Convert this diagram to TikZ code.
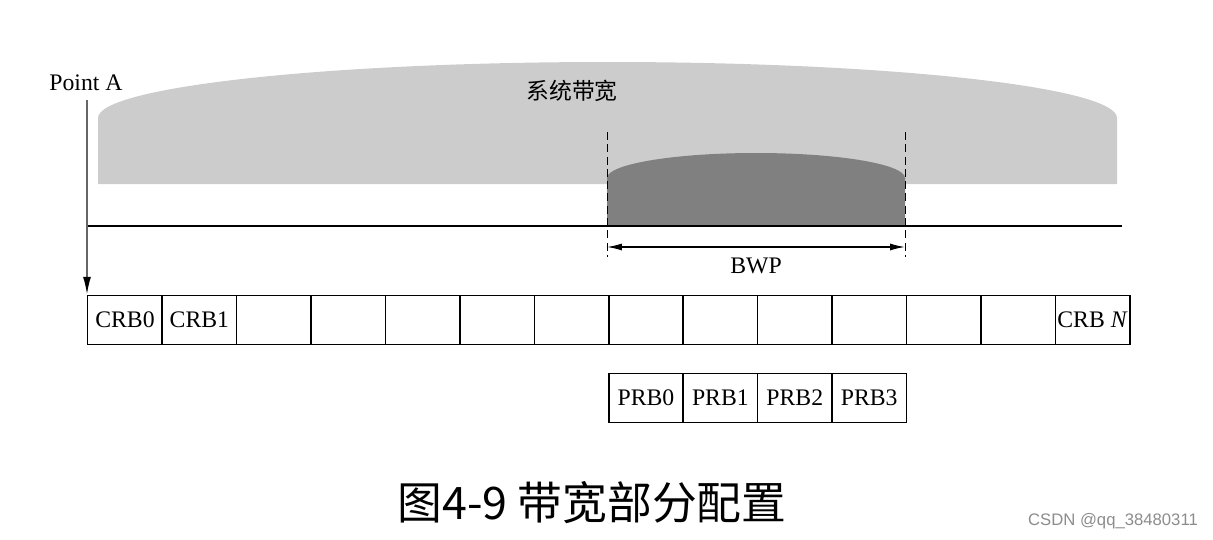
\documentclass[tikz,border=0pt]{standalone}
\usepackage{fontspec}
\setmainfont{Liberation Serif}
\newfontfamily\cjk{Noto Sans CJK SC}
\newfontfamily\wmfont{Liberation Sans}
\usetikzlibrary{arrows.meta}
\definecolor{sysgray}{RGB}{204,204,204}
\definecolor{bwpgray}{RGB}{128,128,128}

\begin{document}
\begin{tikzpicture}[x=0.02cm,y=0.02cm]
    \tikzstyle{every node}+=[inner sep=0pt]
    \tikzstyle{rb}=[draw, line width=0.85pt, minimum width=1.4886cm, minimum height=0.98cm, anchor=south west, font=\fontsize{13.5}{15}\selectfont]
    \tikzstyle{bwpdash}=[line width=0.5pt, dash pattern=on 4.5pt off 2.5pt]
    \useasboundingbox (0,0) rectangle (1213,539);
    % system bandwidth and BWP
    \fill [sysgray] (98,355) -- (98,421) arc[start angle=180, end angle=0, x radius=509.5, y radius=56] -- (1117,355) -- cycle;
    \fill [bwpgray] (607,313) -- (607,361) arc[start angle=180, end angle=0, x radius=149, y radius=25] -- (905,313) -- cycle;
    \node (sys) at (572,448) {\cjk\fontsize{13}{15}\selectfont 系统带宽};
    % frequency axis
    \coordinate (axl) at (87,313);
    \coordinate (axr) at (1122,313);
    \draw [line width=0.8pt] (axl) -- (axr);
    \coordinate (d1t) at (607,407);
    \coordinate (d1b) at (607,282);
    \coordinate (d2t) at (905,407);
    \coordinate (d2b) at (905,282);
    \draw [bwpdash] (d1t) -- (d1b);
    \draw [bwpdash] (d2t) -- (d2b);
    \coordinate (bw1) at (607,292);
    \coordinate (bw2) at (905,292);
    \draw [line width=0.8pt, {Latex[length=8.5pt,width=4pt]}-{Latex[length=8.5pt,width=4pt]}] (bw1) -- (bw2);
    \node (bwp) at (756,273) {\fontsize{13.5}{15}\selectfont BWP};
    % common resource blocks
    \foreach \i/\t in {0/CRB0,1/CRB1,2/,3/,4/,5/,6/,7/,8/,9/,10/,11/,12/,13/CRB \textit{N}}
        \node [rb] (crb\i) at (87+74.43*\i,194) {\t};
    % physical resource blocks
    \foreach \i in {0,...,3}
        \node [rb] (prb\i) at (608+74.43*\i,116) {PRB\i};
    % point A
    \node (ptA) at (86,456) {\fontsize{13.5}{15}\selectfont Point A};
    \draw [black!60, line width=0.9pt, shorten <=5pt, -{Latex[black,length=10pt,width=4.5pt]}] (ptA.south -| crb0.north west) -- (crb0.north west);
    % caption
    \node (cap) at (592,36) {\cjk\fontsize{25.5}{30}\selectfont 图4-9 带宽部分配置};
    \node (wm) at (1113,18) {\wmfont\color{black!45}\fontsize{9.5}{11}\selectfont CSDN @qq\_38480311};
\end{tikzpicture}
\end{document}
